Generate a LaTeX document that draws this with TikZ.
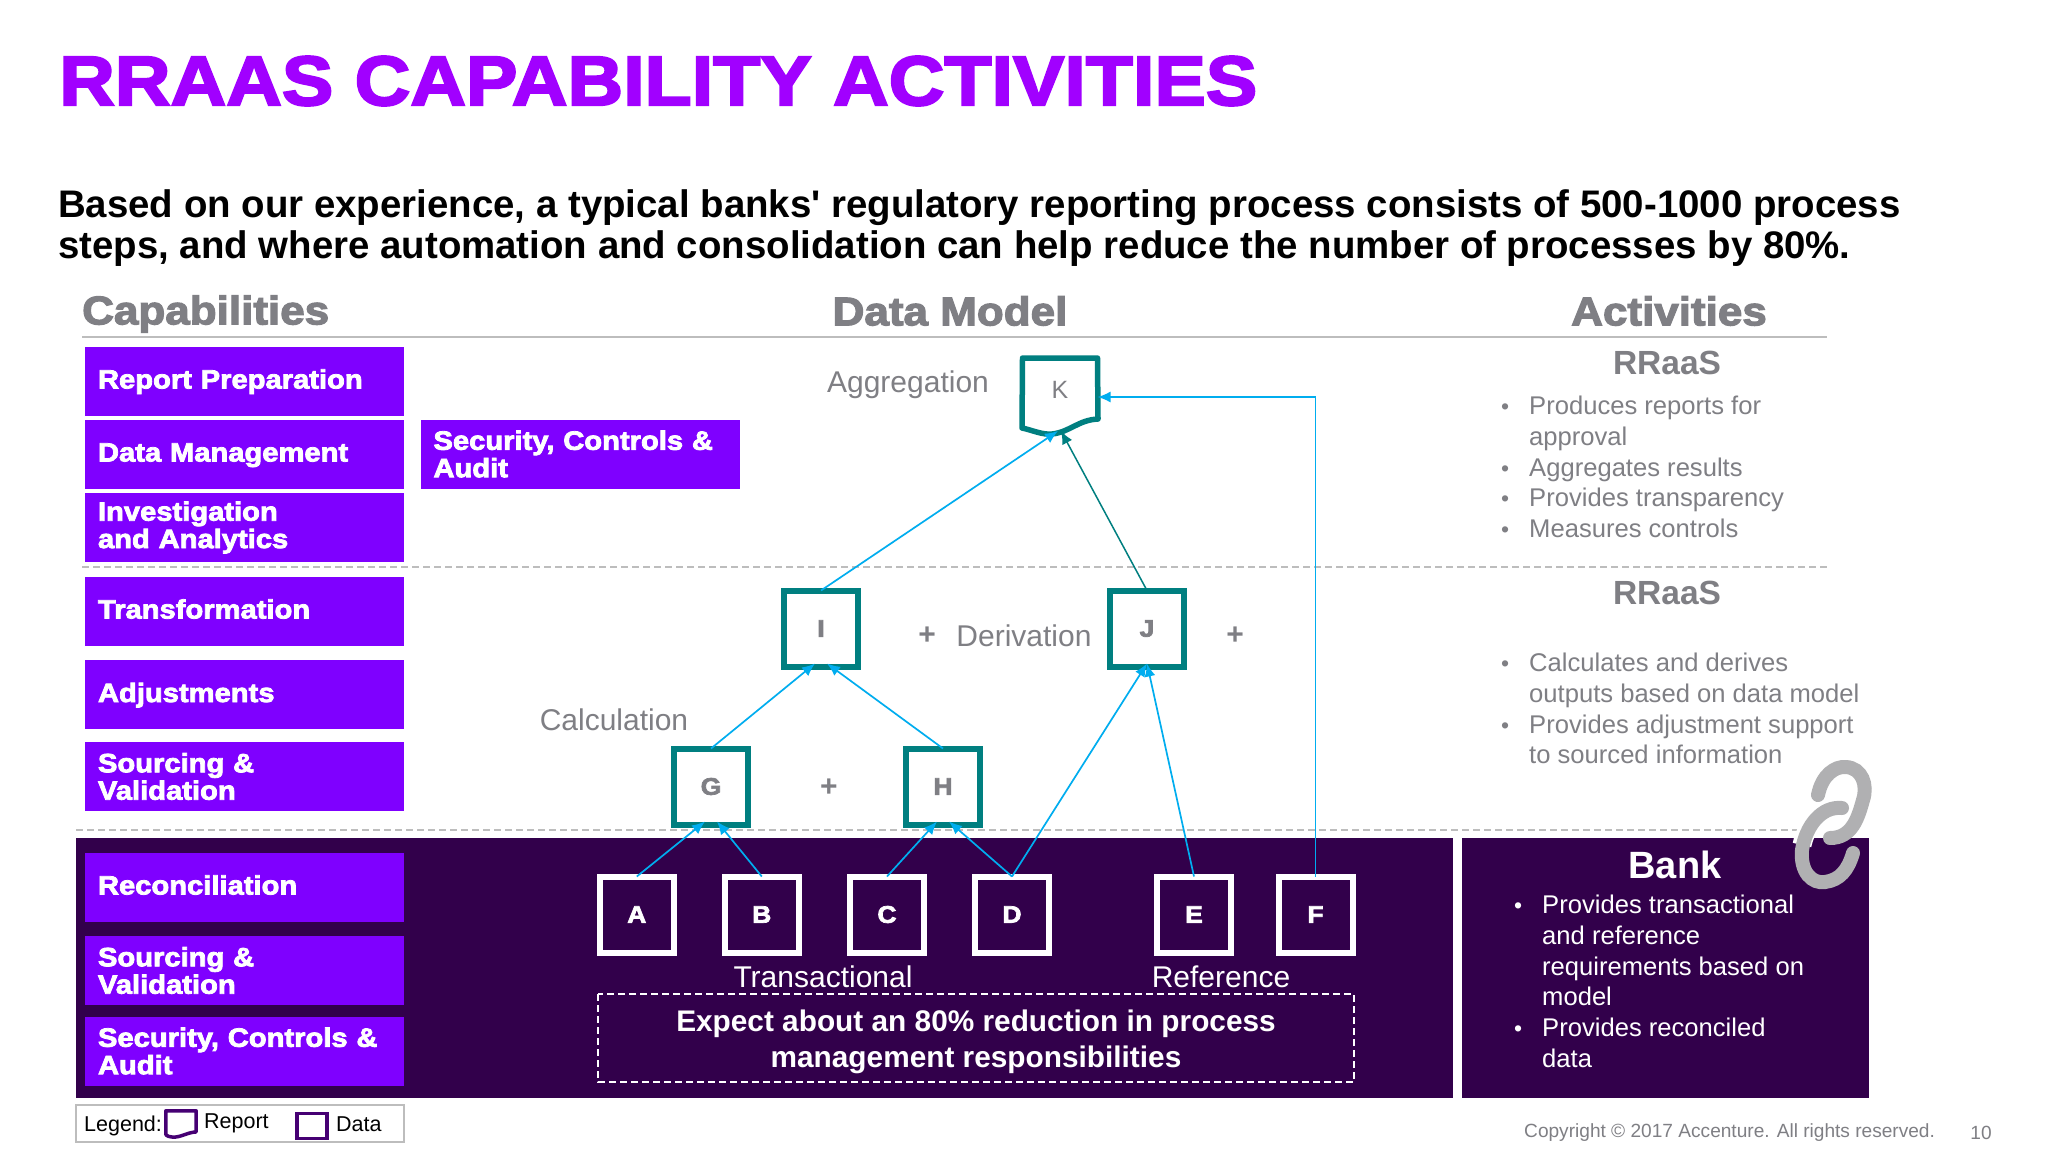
\documentclass[tikz,border=0pt]{standalone}
\usepackage{fontspec}
\setmainfont{Liberation Sans}
\newfontfamily\heavyfont[BoldFeatures={FakeBold=3,FakeStretch=1.1}]{Liberation Sans}
\usetikzlibrary{arrows.meta}
\definecolor{titlepurple}{HTML}{A100FF}
\definecolor{cappurple}{HTML}{7F00FF}
\definecolor{darkpurple}{HTML}{32004B}
\definecolor{legendpurple}{HTML}{460073}
\definecolor{softgray}{HTML}{7F7F84}
\definecolor{rulegray}{HTML}{BDBDBD}
\definecolor{chaingray}{HTML}{B0B0B2}
\definecolor{datateal}{HTML}{007F80}
\definecolor{linkcyan}{HTML}{00ADEF}
\newcommand{\actbullet}{\llap{{\fontsize{23}{23}\selectfont\textbullet}\hspace{20pt}}}
\tikzset{
    capbox/.style={rectangle, fill=cappurple, text=white, minimum width=319pt, minimum height=69pt, text width=293pt, inner sep=0pt, align=left, font=\heavyfont\bfseries\fontsize{26.5}{27.4}\selectfont},
    capsingle/.style={capbox, text height=21pt, text depth=6pt},
    headtext/.style={text=softgray, inner sep=0pt, font=\heavyfont\bfseries\fontsize{40}{44}\selectfont},
    planetext/.style={text=softgray, inner sep=0pt, font=\fontsize{30}{34}\selectfont},
    plustext/.style={text=softgray, inner sep=0pt, font=\bfseries\fontsize{30}{34}\selectfont},
    acttext/.style={text=softgray, inner sep=0pt, anchor=north west, align=left, font=\fontsize{25.6}{30.7}\selectfont},
    databox/.style={rectangle, draw=datateal, line width=6pt, fill=white, text=softgray, minimum width=74pt, minimum height=76pt, inner sep=0pt, outer sep=0pt, font=\heavyfont\bfseries\fontsize{24}{26}\selectfont},
    basebox/.style={rectangle, draw=white, line width=6pt, text=white, minimum width=74pt, minimum height=76pt, inner sep=0pt, outer sep=0pt, font=\heavyfont\bfseries\fontsize{24}{26}\selectfont},
    feedline/.style={draw=linkcyan, line width=1.7pt, -{Latex[length=13pt,width=11pt]}},
    rulegrayline/.style={draw=rulegray, line width=2pt},
    dashline/.style={rulegrayline, dash pattern=on 7pt off 4pt},
    legendtext/.style={inner sep=0pt, text=black, font=\fontsize{21.5}{24}\selectfont},
    chainline/.style={draw=chaingray, line width=14pt, line cap=round},
}
\begin{document}
\begin{tikzpicture}[x=1pt, y=-1pt]
    \useasboundingbox [fill=white] (0, 0) rectangle (2048, 1152);

    \node [anchor=west, inner sep=0pt, text=titlepurple, font=\heavyfont\bfseries\fontsize{70.1}{74}\selectfont] (title) at (59, 81) {RRAAS CAPABILITY ACTIVITIES};
    \node [anchor=west, inner sep=0pt, align=left, text=black, font=\bfseries\fontsize{38.4}{41.5}\selectfont] (intro) at (58, 228) {Based on our experience, a typical banks\textquotesingle{} regulatory reporting process consists of 500-1000 process\\steps, and where automation and consolidation can help reduce the number of processes by 80\%.};

    \node [headtext, anchor=west] (capabilities) at (82, 314) {Capabilities};
    \node [headtext] (datamodel) at (950, 311) {Data Model};
    \node [headtext] (activities) at (1669, 311) {Activities};
    \draw [rulegrayline] (82, 337) -- (1827, 337);
    \draw [dashline] (82, 567) -- (1827, 567);
    \draw [dashline] (76, 830) -- (1810, 830);

    \draw [fill=darkpurple, draw=none] (76, 838) rectangle (1453, 1098);
    \draw [fill=darkpurple, draw=none] (1462, 838) rectangle (1869, 1098);

    \node [capsingle] (report) at (244.5, 381) {Report Preparation};
    \node [capsingle] (datamgmt) at (244.5, 454) {Data Management};
    \node [capbox] (invest) at (244.5, 527.5) {Investigation\\and Analytics};
    \node [capbox] (security) at (580, 454) {Security, Controls \&\\Audit};
    \node [capsingle] (transform) at (244.5, 611) {Transformation};
    \node [capsingle] (adjust) at (244.5, 694.5) {Adjustments};
    \node [capbox] (sourcing) at (244.5, 776.5) {Sourcing \&\\Validation};
    \node [capsingle] (reconcile) at (244.5, 887) {Reconciliation};
    \node [capbox] (sourcingb) at (244.5, 970.5) {Sourcing \&\\Validation};
    \node [capbox] (securityb) at (244.5, 1051) {Security, Controls \&\\Audit};

    \node [rectangle, minimum width=75pt, minimum height=78pt, inner sep=0pt, outer sep=0pt] (K) at (1060, 397) {};
    \draw [draw=datateal, line width=5.5pt, line join=round, fill=white] (K.north west) -- (K.north east) -- (1098, 419) .. controls (1078, 420) and (1070, 432) .. (1052, 434) .. controls (1042, 435) and (1032, 430) .. (1022, 428) -- cycle;
    \node [rectangle, inner sep=0pt, text=softgray, font=\fontsize{25}{28}\selectfont] (Klabel) at (1060, 390) {K};
    \coordinate (Kleft) at (1058, 431);
    \coordinate (Kright) at (1061, 431);

    \node [databox] (I) at (821, 628.5) {I};
    \node [databox] (J) at (1147, 628.5) {J};
    \node [databox] (G) at (711, 786.5) {G};
    \node [databox] (H) at (943, 786.5) {H};

    \node [basebox] (A) at (636.8, 914.5) {A};
    \node [basebox] (B) at (761.8, 914.5) {B};
    \node [basebox] (C) at (887, 914.5) {C};
    \node [basebox] (D) at (1012, 914.5) {D};
    \node [basebox] (E) at (1194, 914.5) {E};
    \node [basebox] (F) at (1315.5, 914.5) {F};

    \draw [feedline] (A.north) -- ([xshift=-6pt, yshift=3pt]G.south);
    \draw [feedline] (B.north) -- ([xshift=6pt, yshift=3pt]G.south);
    \draw [feedline] (C.north) -- ([xshift=-6pt, yshift=3pt]H.south);
    \draw [feedline] (D.north) -- ([xshift=6pt, yshift=3pt]H.south);
    \draw [feedline] (G.north) -- ([xshift=-6pt, yshift=3pt]I.south);
    \draw [feedline] (H.north) -- ([xshift=6pt, yshift=3pt]I.south);
    \draw [feedline] (D.north) -- ([yshift=3pt]J.south);
    \draw [feedline] (E.north) -- ([yshift=3pt]J.south);
    \draw [feedline] (I.north) -- (Kleft);
    \draw [feedline, draw=datateal, line width=1.5pt] (J.north) -- (Kright);
    \draw [feedline] (F.north) |- (K.east);

    \node [planetext] (aggregation) at (908, 385) {Aggregation};
    \node [planetext] (derivation) at (1024, 636) {Derivation};
    \node [planetext] (calculation) at (614, 720) {Calculation};
    \node [plustext] (plusi) at (927, 636) {+};
    \node [plustext] (plusj) at (1235, 636) {+};
    \node [plustext] (plusg) at (829, 788) {+};
    \node [planetext, text=white] (transactional) at (823, 977) {Transactional};
    \node [planetext, text=white] (reference) at (1221, 977) {Reference};

    \draw [draw=white, line width=1.6pt, dash pattern=on 7pt off 4pt] (598, 994) rectangle (1354, 1082);
    \node [inner sep=0pt, align=center, text=white, font=\bfseries\fontsize{29.8}{36.5}\selectfont] (expect) at (976, 1042) {Expect about an 80\% reduction in process\\management responsibilities};

    \node [inner sep=0pt, text=softgray, font=\bfseries\fontsize{33.5}{38}\selectfont] (rraasa) at (1667, 363) {RRaaS};
    \node [acttext] (actsa) at (1529, 396) {\actbullet Produces reports for\\approval\\\actbullet Aggregates results\\\actbullet Provides transparency\\\actbullet Measures controls};
    \node [inner sep=0pt, text=softgray, font=\bfseries\fontsize{33.5}{38}\selectfont] (rraasb) at (1667, 593) {RRaaS};
    \node [acttext] (actsb) at (1529, 653) {\actbullet Calculates and derives\\outputs based on data model\\\actbullet Provides adjustment support\\to sourced information};
    \node [inner sep=0pt, text=white, font=\bfseries\fontsize{38}{42}\selectfont] (bank) at (1675, 865) {Bank};
    \node [acttext, text=white] (actsc) at (1542, 895) {\actbullet Provides transactional\\and reference\\requirements based on\\model\\\actbullet Provides reconciled\\data};

    \draw [draw=rulegray, fill=white, line width=2.5pt] (76, 1105) rectangle (404, 1142);
    \node [legendtext, anchor=west] (legend) at (84, 1126) {Legend:};
    \node [rectangle, minimum width=30pt, minimum height=22pt, inner sep=0pt] (legendreport) at (181, 1122) {};
    \draw [draw=legendpurple, line width=3.5pt, line join=round] (legendreport.north west) -- (legendreport.north east) -- (196, 1132) .. controls (188, 1132) and (180, 1138) .. (172, 1137) .. controls (170, 1137) and (167, 1136) .. (166, 1135) -- cycle;
    \node [legendtext, anchor=west] (legendreporttext) at (204, 1123) {Report};
    \node [rectangle, draw=legendpurple, line width=3.5pt, minimum width=30pt, minimum height=25pt, inner sep=0pt] (legenddata) at (312, 1126) {};
    \node [legendtext, anchor=west] (legenddatatext) at (336, 1124) {Data};

    \node [inner sep=0pt, anchor=west, text=softgray, font=\fontsize{19.1}{22}\selectfont] (copyright) at (1524, 1133) {Copyright \textcopyright{} 2017 Accenture. All rights reserved.};
    \node [inner sep=0pt, text=softgray, font=\fontsize{19.1}{22}\selectfont] (pagenum) at (1981, 1133) {10};

    \draw [chainline] (1818, 795) .. controls (1822, 775) and (1835, 766) .. (1846, 767) .. controls (1862, 768) and (1868, 785) .. (1863, 800) .. controls (1858, 818) and (1852, 838) .. (1830, 838);
    \draw [draw=white, line width=19pt] (1844, 808) .. controls (1822, 806) and (1806, 825) .. (1802, 845);
    \draw [chainline] (1842, 808) .. controls (1822, 806) and (1806, 825) .. (1802, 850) .. controls (1800, 872) and (1812, 884) .. (1825, 882) .. controls (1840, 880) and (1848, 870) .. (1853, 853);
\end{tikzpicture}
\end{document}
